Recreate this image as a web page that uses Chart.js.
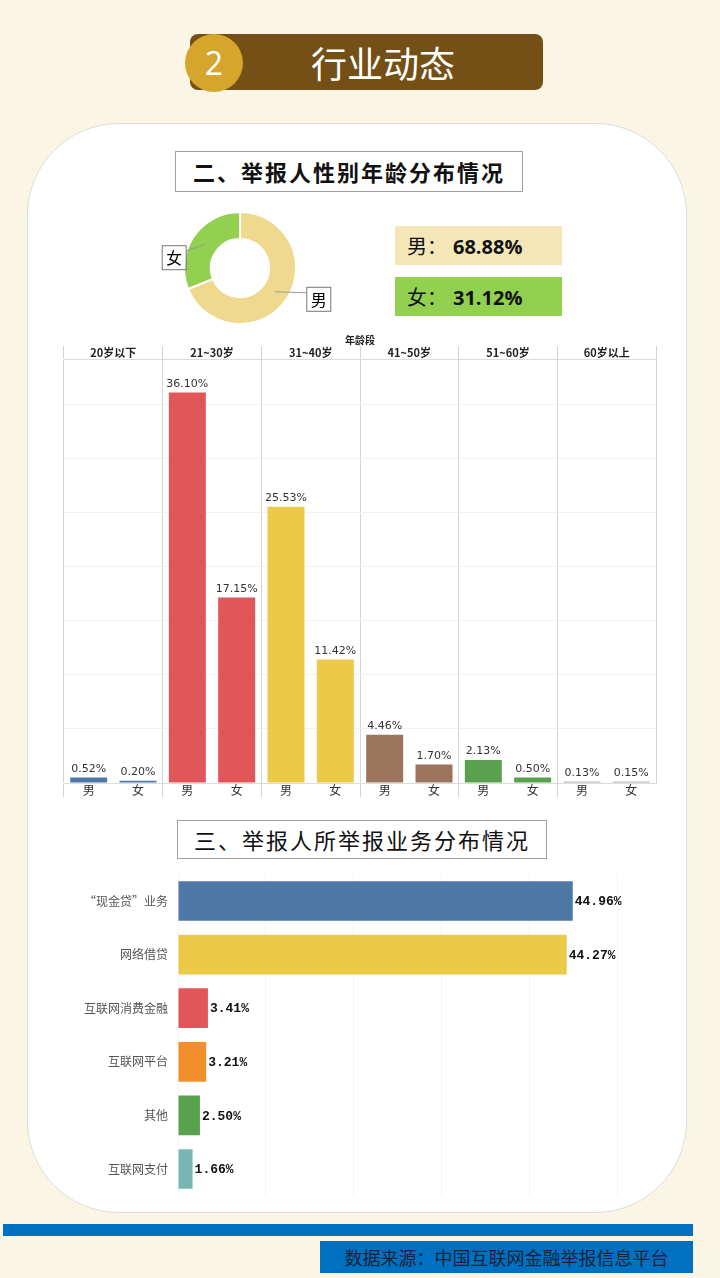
<!DOCTYPE html>
<html>
<head>
<meta charset="utf-8">
<script src="https://cdn.jsdelivr.net/npm/chart.js@4.4.1/dist/chart.umd.min.js"></script>
<style>
  body { margin: 0; background: #faf5e4; font-family: "Noto Sans CJK SC", sans-serif; }
  .page { position: relative; width: 720px; height: 1278px; overflow: hidden; }
  .abs { position: absolute; }
  .head-bar { left: 190px; top: 34px; width: 353px; height: 56px; background: #744f16; border-radius: 8px; }
  .head-circle { left: 185px; top: 34px; width: 58px; height: 58px; border-radius: 50%; background: #d6a52b;
    color: #fff; font: 32px "Open Sans", sans-serif; text-align: center; line-height: 58px; }
  .head-text { left: 243px; top: 34px; width: 280px; height: 56px; color: #fff; font-size: 36px; line-height: 56px; text-align: center; }
  .panel { left: 27px; top: 123px; width: 658px; height: 1088px; background: #fff; border: 1px solid #ddd; border-radius: 92px; }
  .title { border: 1px solid #a0a0a0; background: #fff; color: #111; font-size: 22px; text-align: center; letter-spacing: 2px; }
  .stat { font-size: 20px; line-height: 39px; padding-left: 12px; color: #111; }
  .stat b { font-family: "Open Sans", sans-serif; font-weight: 700; margin-left: 6px; }
  .src-bar { left: 3px; top: 1224px; width: 690px; height: 12px; background: #0070c0; }
  .src-box { left: 320px; top: 1241px; width: 373px; height: 32px; background: #0070c0; color: #18233a; font-size: 18px; line-height: 32px; text-align: center; }
  canvas { position: absolute; }
</style>
</head>
<body>
<div class="page">
  <div class="abs head-bar"></div>
  <div class="abs head-circle">2</div>
  <div class="abs head-text">行业动态</div>
  <div class="abs panel"></div>

  <div class="abs title" style="left:175px;top:151px;width:346px;height:39px;line-height:39px;font-weight:700;">二、举报人性别年龄分布情况</div>
  <div class="abs stat" style="left:395px;top:226px;width:155px;height:39px;background:#f5e6b8;">男：<b>68.88%</b></div>
  <div class="abs stat" style="left:395px;top:277px;width:155px;height:39px;background:#92d050;">女：<b>31.12%</b></div>

  <div class="abs title" style="left:177px;top:820px;width:368px;height:37px;line-height:37px;">三、举报人所举报业务分布情况</div>

  <div class="abs src-bar"></div>
  <div class="abs src-box">数据来源：中国互联网金融举报信息平台</div>

  <canvas id="pie" width="200" height="126" style="left:140px;top:205px;"></canvas>
  <canvas id="age" width="620" height="472" style="left:50px;top:330px;"></canvas>
  <canvas id="biz" width="630" height="340" style="left:50px;top:865px;"></canvas>
</div>

<script>
// 性别
var genderLabels = ["男", "女"];
var genderValues = [68.88, 31.12];
var genderColors = ["#efd98f", "#92d050"];

// 年龄段
var ageGroups = ["20岁以下", "21~30岁", "31~40岁", "41~50岁", "51~60岁", "60岁以上"];
var maleByAge = [0.52, 36.10, 25.53, 4.46, 2.13, 0.13];
var femaleByAge = [0.20, 17.15, 11.42, 1.70, 0.50, 0.15];
var ageColors = ["#4e79a7", "#e15759", "#edc948", "#9c755f", "#59a14f", "#bab0ac"];

// 业务
var bizLabels = ["“现金贷”业务", "网络借贷", "互联网消费金融", "互联网平台", "其他", "互联网支付"];
var bizValues = [44.96, 44.27, 3.41, 3.21, 2.50, 1.66];
var bizColors = ["#4e79a7", "#edc948", "#e15759", "#f28e2b", "#59a14f", "#76b7b2"];

var cjk = '"Noto Sans CJK SC", sans-serif';

// build the 12 bars: 男,女 for each age group
var sexLabels = [], ageValues = [], barColors = [];
ageGroups.forEach(function (g, i) {
  sexLabels.push("男", "女");
  ageValues.push(maleByAge[i], femaleByAge[i]);
  barColors.push(ageColors[i], ageColors[i]);
});

// leader lines + boxed labels for the doughnut
var pieLabels = {
  id: "pieLabels",
  afterDraw: function (chart) {
    var ctx = chart.ctx;
    chart.getDatasetMeta(0).data.forEach(function (arc, i) {
      var p = arc.getProps(["x", "y", "startAngle", "endAngle", "outerRadius", "innerRadius"]);
      var mid = (p.startAngle + p.endAngle) / 2;
      var r = (p.outerRadius + p.innerRadius) / 2;
      var ax = p.x + Math.cos(mid) * r, ay = p.y + Math.sin(mid) * r;
      var left = Math.cos(mid) < 0;
      var bx = left ? ax - 43 : ax + 31, by = left ? ay + 1 : ay - 5;
      ctx.save();
      ctx.strokeStyle = "#9a9a9a";
      ctx.lineWidth = 1;
      ctx.beginPath();
      ctx.moveTo(ax, ay);
      ctx.lineTo(left ? bx + 24 : bx, by + 6);
      ctx.stroke();
      ctx.fillStyle = "#fff";
      ctx.fillRect(bx, by, 24, 24);
      ctx.strokeStyle = "#777";
      ctx.strokeRect(bx + 0.5, by + 0.5, 24, 24);
      ctx.fillStyle = "#000";
      ctx.font = "16px " + cjk;
      ctx.textAlign = "center";
      ctx.textBaseline = "middle";
      ctx.fillText(genderLabels[i], bx + 12.5, by + 13);
      ctx.restore();
    });
  }
};

new Chart(document.getElementById("pie"), {
  type: "doughnut",
  data: {
    labels: genderLabels,
    datasets: [{ data: genderValues, backgroundColor: genderColors, borderColor: "#fff", borderWidth: 2 }]
  },
  options: {
    responsive: false,
    animation: false,
    cutout: "52%",
    layout: { padding: { top: 6, bottom: 6 } },
    plugins: { legend: { display: false }, tooltip: { enabled: false } }
  },
  plugins: [pieLabels]
});

// value labels above / beside bars
function valueLabels(font, color, horizontal) {
  return {
    id: "valueLabels",
    afterDatasetsDraw: function (chart) {
      var ctx = chart.ctx;
      var ds = chart.data.datasets[0];
      ctx.save();
      ctx.font = font;
      ctx.fillStyle = color;
      chart.getDatasetMeta(0).data.forEach(function (bar, i) {
        var txt = ds.data[i].toFixed(2) + "%";
        if (horizontal) {
          ctx.textAlign = "left";
          ctx.textBaseline = "middle";
          ctx.fillText(txt, bar.x + 2, bar.y + 1);
        } else {
          ctx.textAlign = "center";
          ctx.textBaseline = "bottom";
          ctx.fillText(txt, bar.x, bar.y - 3);
        }
      });
      ctx.restore();
    }
  };
}

new Chart(document.getElementById("age"), {
  type: "bar",
  data: {
    labels: sexLabels,
    datasets: [{ data: ageValues, backgroundColor: barColors, barPercentage: 0.75, categoryPercentage: 1 }]
  },
  options: {
    responsive: false,
    animation: false,
    layout: { padding: { left: 14, right: 14, top: 3, bottom: 4 } },
    plugins: { legend: { display: false }, tooltip: { enabled: false } },
    scales: {
      x: {
        position: "bottom",
        offset: true,
        grid: {
          offset: true,
          drawOnChartArea: false,
          tickLength: 14,
          color: function (c) { return c.index % 2 === 0 ? "#d4d4d4" : "rgba(0,0,0,0)"; }
        },
        border: { color: "#dcdcdc" },
        ticks: { padding: -14, color: "#333", font: { size: 12, family: cjk } },
        afterFit: function (s) { s.height = 15; }
      },
      groups: {
        type: "category",
        position: "top",
        labels: ageGroups,
        offset: true,
        grid: { offset: true, tickLength: 13, color: "#d4d4d4" },
        border: { color: "#dcdcdc" },
        ticks: { padding: -13, color: "#222", font: { size: 11, weight: "bold", family: cjk } },
        title: { display: true, text: "年龄段", color: "#222", padding: { top: 1, bottom: 0 }, font: { size: 10, weight: "bold", family: cjk } },
        afterFit: function (s) { s.height = 26; }
      },
      y: {
        min: 0,
        max: 39.2,
        ticks: { display: false, stepSize: 5 },
        grid: { drawTicks: false, color: "#f1f1f1" },
        border: { display: false }
      }
    }
  },
  plugins: [valueLabels('11px "DejaVu Sans", sans-serif', "#333", false)]
});

new Chart(document.getElementById("biz"), {
  type: "bar",
  data: {
    labels: bizLabels,
    datasets: [{ data: bizValues, backgroundColor: bizColors, barPercentage: 0.74, categoryPercentage: 1 }]
  },
  options: {
    indexAxis: "y",
    responsive: false,
    animation: false,
    layout: { padding: { left: 0, right: 63, top: 8, bottom: 8 } },
    plugins: { legend: { display: false }, tooltip: { enabled: false } },
    scales: {
      x: {
        min: 0,
        max: 50,
        ticks: { display: false, stepSize: 10 },
        grid: { drawTicks: false, color: "#f3f3f3" },
        border: { display: false }
      },
      y: {
        grid: { display: false },
        border: { display: false },
        ticks: { padding: 2, color: "#555", font: { size: 12, family: cjk } },
        afterFit: function (s) { s.width = 128; }
      }
    }
  },
  plugins: [valueLabels('bold 13px "Liberation Mono", monospace', "#111", true)]
});
</script>
</body>
</html>
